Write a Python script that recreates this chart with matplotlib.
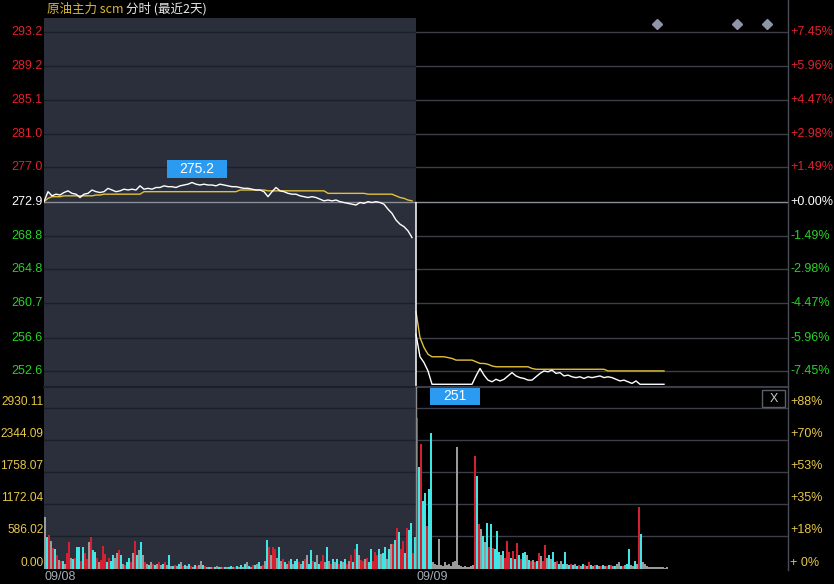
import matplotlib
matplotlib.use('Agg')
import matplotlib.pyplot as plt
import matplotlib.transforms as mtransforms
from matplotlib.patches import Rectangle
from matplotlib.lines import Line2D
import numpy as np

plt.rcParams['font.family'] = ['Liberation Sans', 'DejaVu Sans']

# ---------------- data ----------------
title_main = "原油主力 scm"
title_sub = "分时 (最近2天)"
dates = ["09/08", "09/09"]
base_price = 272.9
price_ticks = [293.2, 289.2, 285.1, 281.0, 277.0, 272.9, 268.8, 264.8, 260.7, 256.6, 252.6]
pct_ticks = ["+7.45%", "+5.96%", "+4.47%", "+2.98%", "+1.49%", "+0.00%",
             "-1.49%", "-2.98%", "-4.47%", "-5.96%", "-7.45%"]
vol_ticks = [0.00, 586.02, 1172.04, 1758.07, 2344.09, 2930.11]
vol_pct_ticks = ["+ 0%", "+18%", "+35%", "+53%", "+70%", "+88%"]
high_label = "275.2"
low_label = "251"

price_day1 = [272.9, 274.1, 273.6, 273.8, 273.7, 274.0, 274.2, 273.9, 273.8, 273.4,
              273.8, 273.9, 274.3, 274.1, 274.0, 274.1, 274.5, 274.3, 274.1, 274.2,
              274.4, 274.3, 274.4, 274.3, 274.8, 274.4, 274.5, 274.4, 274.6, 274.6,
              274.8, 274.7, 274.7, 274.6, 274.8, 274.9, 275.0, 275.2, 275.0, 274.9,
              275.0, 274.9, 274.9, 274.8, 275.0, 274.9, 274.8, 274.7, 274.7, 274.6,
              274.5, 274.5, 274.4, 274.3, 274.3, 274.1, 273.5, 274.1, 274.6, 274.2,
              274.1, 273.9, 273.8, 273.8, 273.6, 273.5, 273.4, 273.5, 273.4, 273.2,
              273.0, 273.1, 273.0, 273.1, 272.9, 272.8, 272.7, 272.6, 272.5, 272.8,
              272.7, 272.9, 272.8, 272.9, 272.8, 272.6, 272.0, 271.5, 270.7, 270.2,
              269.9, 269.4, 268.6]
avg_day1 = [272.9, 273.3, 273.5, 273.5, 273.5, 273.6, 273.6, 273.6, 273.6, 273.6,
            273.6, 273.6, 273.6, 273.7, 273.7, 273.8, 273.8, 273.8, 273.8, 273.8,
            273.8, 273.8, 273.8, 273.8, 273.8, 274.1, 274.1, 274.1, 274.1, 274.1,
            274.1, 274.1, 274.1, 274.1, 274.1, 274.1, 274.1, 274.1, 274.1, 274.1,
            274.1, 274.1, 274.1, 274.1, 274.1, 274.1, 274.1, 274.1, 274.1, 274.3,
            274.3, 274.3, 274.3, 274.3, 274.3, 274.3, 274.2, 274.2, 274.2, 274.2,
            274.2, 274.2, 274.2, 274.2, 274.2, 274.2, 274.2, 274.2, 274.2, 274.2,
            274.2, 273.9, 273.9, 273.9, 273.9, 273.9, 273.9, 273.9, 273.9, 273.9,
            273.9, 273.8, 273.8, 273.8, 273.8, 273.8, 273.8, 273.8, 273.6, 273.4,
            273.3, 273.1, 273.0]
price_day2 = [257.0, 254.3, 253.6, 252.6, 251.0, 251.0, 251.0, 251.0, 251.0, 251.0,
              251.0, 251.0, 251.0, 251.0, 251.0, 252.0, 252.9, 252.1, 251.5, 251.3,
              251.6, 251.4, 251.6, 252.0, 252.4, 252.0, 251.8, 251.7, 251.5, 251.5,
              251.9, 252.3, 252.6, 252.5, 252.7, 252.3, 252.4, 252.0, 252.1, 251.9,
              251.8, 251.9, 251.7, 251.9, 251.8, 251.9, 252.0, 251.8, 251.9, 251.8,
              251.6, 251.4, 251.5, 251.3, 251.1, 251.4, 251.0, 251.0, 251.0, 251.0,
              251.0, 251.0, 251.0]
avg_day2 = [259.7, 256.6, 255.4, 254.6, 254.3, 254.3, 254.3, 254.3, 254.2, 254.1,
            253.9, 253.9, 253.9, 253.9, 253.9, 253.7, 253.5, 253.5, 253.4, 253.2,
            253.1, 253.1, 253.1, 253.1, 253.1, 253.1, 253.1, 253.1, 253.1, 252.9,
            252.8, 252.8, 252.8, 252.8, 252.8, 252.8, 252.8, 252.8, 252.8, 252.8,
            252.8, 252.8, 252.8, 252.8, 252.8, 252.8, 252.8, 252.8, 252.6, 252.6,
            252.6, 252.6, 252.6, 252.6, 252.6, 252.6, 252.6, 252.6, 252.6, 252.6,
            252.6, 252.6, 252.6]

vol_day1 = [950, 570, 610, 500, 380, 350, 240, 150, 130, 130,
            90, 280, 480, 200, 165, 200, 385, 385, 145, 385,
            290, 165, 480, 570, 330, 310, 200, 110, 150, 420,
            260, 110, 200, 130, 240, 200, 290, 330, 250, 90,
            60, 110, 200, 110, 290, 510, 240, 330, 480, 240,
            110, 90, 60, 110, 75, 60, 90, 110, 60, 75,
            110, 60, 240, 50, 40, 60, 40, 75, 110, 40,
            55, 40, 75, 40, 30, 55, 40, 60, 140, 60,
            40, 20, 35, 20, 30, 20, 40, 25, 20, 30,
            20, 35, 20, 40, 25, 20, 40, 25, 60, 20,
            75, 110, 40, 25, 60, 55, 75, 110, 40, 60,
            140, 530, 385, 240, 385, 365, 200, 385, 130, 165,
            110, 75, 140, 165, 75, 130, 165, 110, 75, 130,
            165, 240, 90, 330, 130, 110, 240, 90, 130, 240,
            110, 385, 130, 90, 165, 110, 165, 90, 130, 110,
            165, 90, 130, 240, 110, 350, 440, 240, 150, 130,
            165, 200, 110, 350, 130, 310, 240, 350, 260, 290,
            385, 165, 350, 440, 440, 530, 750, 660, 360, 510,
            290, 750, 710, 830, 290, 570]
vol_day1_colors = ("gcrgrcrgrc" "grrgcrccrc" "rrgrccrgrr" "rcrccggrcg" "rccrgrcgcg"
                   "rgcgrcgrgc" "rgcgcrgcgr" "cgcrgcrggc" "rgcgrcgcgr" "cgccgrcgcg"
                   "cgcgrcgcgr" "gcrgrrgcgr" "cgrcgccrgc" "rgccrcgcrr" "gcgrcgcrcg"
                   "crgrcrcgrr" "grccrrrcgc" "cgcgrcrcrr" "crccrc")
vol_day2 = [2765, 1850, 2277, 1240, 1390, 780, 1450, 2490, 110, 80,
            70, 540, 60, 50, 110, 60, 90, 40, 110, 130,
            2216, 60, 40, 30, 40, 30, 25, 50, 60, 2063,
            1700, 810, 720, 600, 480, 840, 400, 810, 380, 350,
            690, 300, 250, 320, 200, 505, 300, 200, 320, 180,
            475, 250, 180, 280, 300, 250, 160, 130, 150, 110,
            130, 290, 220, 130, 433, 200, 250, 180, 311, 110,
            130, 90, 130, 80, 305, 90, 70, 80, 60, 90,
            50, 70, 40, 80, 60, 50, 110, 60, 40, 70,
            60, 50, 40, 60, 50, 40, 70, 60, 40, 50,
            80, 110, 40, 50, 60, 80, 354, 60, 40, 130,
            90, 1130, 630, 110, 90, 40, 30, 20, 30, 25,
            20, 30, 20, 25, 15, 20]
vol_day2_colors = ("rcrccrccgg" "gggggggggg" "gggggggggr" "crgcgcrcrc" "ccgcrrrcrc"
                   "rcrccgcrgr" "crgrrgcgcg" "rcgccgcrcg" "crgcrgrcgr" "cgrcgrcrgc"
                   "ggcrgccggc" "grcggggggg" "gggggg")

# ---------------- styling ----------------
BG_DAY1 = '#2a2f3b'
GRID_DAY1 = '#1c1f27'
GRID_DAY2 = '#3b3e48'
RED = '#e0222e'
GREEN = '#26d426'
YEL = '#e6c84a'
BAR_COL = {'r': '#d42030', 'c': '#3ee6e6', 'g': '#9a9a9a'}
BLUE = '#2b9bf2'

W, H = 834, 584
L, R = 44, 788
P_TOP, P_BOT = 18, 386.7
V_TOP, V_BOT = 386.7, 568.5

fig = plt.figure(figsize=(W / 100, H / 100), dpi=100, facecolor='black')
ax = fig.add_axes([L / W, 1 - P_BOT / H, (R - L) / W, (P_BOT - P_TOP) / H])
axv = fig.add_axes([L / W, 1 - V_BOT / H, (R - L) / W, (V_BOT - V_TOP) / H])

P_LO, P_HI = 250.71, 294.93
V_HI = 3329.0
for a in (ax, axv):
    a.set_facecolor('black')
    a.set_xlim(0, 2)
    a.set_xticks([])
    a.set_yticks([])
    for s in a.spines.values():
        s.set_visible(False)
    a.axvspan(0, 1, color=BG_DAY1, zorder=0, lw=0)
ax.set_ylim(P_LO, P_HI)
axv.set_ylim(0, V_HI)

xpx = 2.0 / (R - L)                       # data-x per pixel
ppx = (P_HI - P_LO) / (P_BOT - P_TOP)     # price per pixel
vpx = V_HI / (V_BOT - V_TOP)              # volume per pixel

# price grid
for p in price_ticks:
    if p == base_price:
        ax.plot([0, 2], [p, p], color='#8b8f98', lw=1, zorder=1)
    else:
        ax.plot([0, 1], [p, p], color=GRID_DAY1, lw=1, zorder=1)
        ax.plot([1, 2], [p, p], color=GRID_DAY2, lw=1, zorder=1)
for v in vol_ticks[1:]:
    axv.plot([0, 1], [v, v], color=GRID_DAY1, lw=1, zorder=1)
    axv.plot([1, 2], [v, v], color=GRID_DAY2, lw=1, zorder=1)
# separator between panels
axv.plot([0, 1], [V_HI, V_HI], color=GRID_DAY1, lw=1.5, zorder=1, clip_on=False)
axv.plot([1, 2], [V_HI, V_HI], color=GRID_DAY2, lw=1.5, zorder=1, clip_on=False)

# price lines
n_day = len(price_day1)
step_p = 1.0 / n_day
x1 = np.arange(len(price_day1)) * step_p
x2 = 1 + np.arange(len(price_day2)) * step_p
ax.plot(x1, avg_day1, color='#e2c13a', lw=1.0, zorder=3)
ax.plot(x2, avg_day2, color='#e2c13a', lw=1.0, zorder=3)
ax.plot(x1, price_day1, color='white', lw=1.0, zorder=4)
ax.plot(x2, price_day2, color='white', lw=1.0, zorder=4)
ax.vlines(1, P_LO, base_price, color='white', lw=1.1, zorder=4)

# volume bars
step_v = 1.0 / len(vol_day1)
xv1 = (np.arange(len(vol_day1)) + 0.4) * step_v
xv2 = 1 + (np.arange(len(vol_day2)) + 0.4) * step_v
axv.bar(xv1, vol_day1, width=step_v * 0.75, color=[BAR_COL[c] for c in vol_day1_colors],
        lw=0, zorder=2)
axv.bar(xv2, vol_day2, width=step_v * 0.75, color=[BAR_COL[c] for c in vol_day2_colors],
        lw=0, zorder=2)
axv.axvline(1, color='#8a8a8a', lw=1, zorder=3)

# axis labels (price)
ytr = ax.get_yaxis_transform()
for p, pct in zip(price_ticks, pct_ticks):
    col = 'white' if p == base_price else (RED if p > base_price else GREEN)
    ax.text(-0.0015, p, f"{p:.1f}", transform=ytr, ha='right', va='center',
            color=col, fontsize=9, clip_on=False)
    ax.text(1.003, p, pct, transform=ytr, ha='left', va='center',
            color=col, fontsize=9, clip_on=False)

# axis labels (volume)
vtr = axv.get_yaxis_transform()
for v, vp in zip(vol_ticks, vol_pct_ticks):
    axv.text(-0.0008, v, f"{v:.2f}", transform=vtr, ha='right', va='bottom',
             color=YEL, fontsize=8.6, clip_on=False)
    axv.text(1.003, v, vp, transform=vtr, ha='left', va='bottom',
             color=YEL, fontsize=9, clip_on=False)

# right border line
fig.add_artist(Line2D([R / W, R / W], [1 - 570 / H, 1.0], color='#4a4d56', lw=1))

# date labels
dtr = mtransforms.blended_transform_factory(axv.transData, fig.transFigure)
for i, d in enumerate(dates):
    axv.text(i + 0.002, 1 - 577 / H, d, transform=dtr, ha='left', va='center',
             color='#a5acb8', fontsize=9, clip_on=False)

# title
fig.text(47 / W, 1 - 9 / H, title_main, color='#dcb634', fontsize=9,
         family=['Noto Sans CJK SC', 'DejaVu Sans'], va='center')
fig.text(126 / W, 1 - 9 / H, title_sub, color='#e8e8e8', fontsize=9,
         family=['Noto Sans CJK SC', 'DejaVu Sans'], va='center')

# diamonds at top right
for fx in (0.824, 0.931, 0.972):
    ax.plot([fx], [0.984], marker='D', markersize=5, color='#8e95a6',
            transform=ax.transAxes, clip_on=False, zorder=6)

# high label box
imax = int(np.argmax(price_day1))
xm = x1[imax]
pmax = price_day1[imax]
ax.add_patch(Rectangle((xm - 25 * xpx, pmax + 4.5 * ppx), 60 * xpx, 18 * ppx,
                       color=BLUE, zorder=7, lw=0))
ax.text(xm + 5 * xpx, pmax + 13.5 * ppx, high_label, color='white', fontsize=10,
        ha='center', va='center', zorder=8)

# low label box (in volume panel, below the low)
imin = int(np.argmin(price_day2))
xl = x2[imin]
axv.add_patch(Rectangle((xl - 2 * xpx, V_HI - 18.3 * vpx), 50 * xpx, 17 * vpx,
                        color=BLUE, zorder=7, lw=0))
axv.text(xl + 23 * xpx, V_HI - 9.8 * vpx, low_label, color='white', fontsize=10,
         ha='center', va='center', zorder=8)

# close "X" box
axv.add_patch(Rectangle((1 - 26 / 744, 1 - 20.3 / 181.8), 23 / 744, 17 / 181.8,
                        transform=axv.transAxes, fill=False, edgecolor='#5c5f68',
                        lw=1, zorder=7))
axv.text(1 - 14.5 / 744, 1 - 11.8 / 181.8, "X", transform=axv.transAxes,
         color='#c8c8c8', fontsize=9, ha='center', va='center', zorder=8)

fig.savefig('out.png', dpi=100, facecolor='black')
